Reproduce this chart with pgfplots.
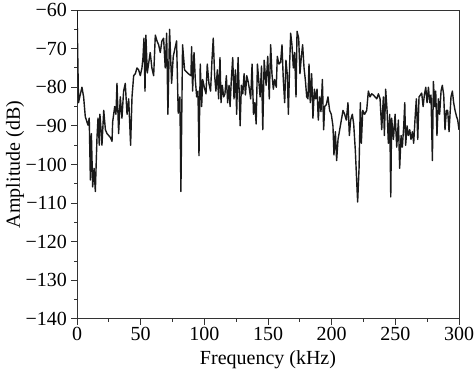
\documentclass[border=0pt]{standalone}
\usepackage{pgfplots}
\pgfplotsset{compat=1.18}
\usepackage{fontspec}
\setmainfont{Liberation Serif}
\pgfplotstableread{
x y
0 -60
0.6 -72
1.2 -84
1.8 -83
3.9 -80
5.2 -82.5
6.5 -87.6
8.6 -89.8
9.6 -88
10.5 -104
11.3 -92
12.3 -105.8
13.4 -101
14.4 -107
15.7 -93
16.5 -88
17.5 -95
18 -87
19 -91.5
19.6 -95
21 -86
22.3 -91
23.6 -92
24.9 -92.5
26.2 -93
27.5 -94
28 -89
29.6 -85
30.6 -87
31.4 -79
32.7 -92
34 -82.5
35.3 -88
36.6 -81
37.9 -79
39.3 -87
40.6 -83
42.1 -95
43.2 -82.5
44.5 -77
45.8 -76.5
47.1 -75
48.4 -75.5
49.7 -77
51 -75
51.8 -72.4
52.6 -67.3
53.4 -81
54.1 -66.5
55.2 -76.3
56.2 -74
57.5 -71
58.8 -75
60.2 -77
61.5 -66.5
62.8 -68
64.1 -69
65.4 -71
66.7 -68
68 -67.3
69.3 -75
70.4 -66
71.4 -87
72.7 -65
74.3 -79
75.6 -72
78.2 -68
79.5 -86.7
80.8 -82.5
81.6 -107
82.9 -69
84.5 -75.5
87.4 -76.5
89.5 -77
90 -69.5
90.8 -81
91.9 -71
92.9 -78
94 -82.5
95 -81
95.8 -97.7
96.8 -74
97.9 -85
98.7 -78
100 -80
101.3 -81.7
102.3 -74
103.6 -79
104.9 -81
106 -73
107 -67.3
108.1 -77
109.1 -81
110.2 -75.5
111.2 -83
112.3 -72.3
113.1 -84
114.1 -79.5
115.2 -82.5
116.2 -81.7
117.3 -77
118.3 -84
119.4 -79.5
120.2 -85
121.2 -78
122.3 -72.3
123.3 -83
124.4 -75.5
125.4 -87
126.5 -72.3
127.3 -80.5
128.1 -90
129.1 -79.5
130.2 -81.7
131.2 -76.5
132.3 -82
133.3 -77
134.4 -78.5
135.4 -80.5
136.4 -83
137.5 -74
138.6 -87
139.6 -84
140.7 -89.5
141.7 -74
142.8 -78.5
143.8 -82.5
144.9 -74.5
145.9 -91
147 -73
148.5 -79.5
149.8 -72
151 -83
152.1 -69
153.1 -76.5
154.2 -80.5
155.2 -78
156.5 -80
157.3 -72
158.6 -74
159.9 -73.5
161 -69
162 -78
163.1 -84
164.1 -73
165.2 -77
166 -87
167 -74
167.8 -66
168.8 -69
169.9 -75
170.9 -71
172 -82.5
172.8 -65.5
174.1 -67.3
175.1 -76.5
176.2 -72
177.2 -69
178.3 -75
179.3 -78
180.4 -82.5
181.4 -83
182.2 -74
183.2 -84
184.3 -76.5
185.3 -88
186.4 -80.5
187.4 -83
188.5 -80.5
189.5 -88.5
190.6 -82.5
191.6 -86.3
192.7 -78
193.7 -91
194.5 -85
195.8 -84.5
197.1 -82.5
198.4 -86
199.7 -87
201 -90
201.8 -97.5
202.9 -91.5
203.9 -99
205 -93.5
206.3 -91
207.6 -88.5
208.9 -86
210.2 -87
211.5 -88.5
212.8 -84
213.9 -92.5
214.9 -88.5
216.2 -87
217.3 -89.5
218.6 -96.5
219.6 -104
220.4 -109.7
221.5 -101
222.5 -84
223.3 -94.5
224.4 -86
225.9 -87
227.5 -86
228.8 -81
230.1 -82.5
231.4 -81.7
232.7 -82
234.1 -82.5
235.4 -83
236.7 -81.7
238 -83
239.3 -91
240.6 -82.5
241.4 -92.5
242.4 -80.5
243.5 -86
244.5 -94.5
245.6 -87
246.4 -108.4
247.1 -88
248.5 -93.5
249.8 -87
251.1 -95.5
252.4 -88.5
253.4 -101
254.5 -92.5
255.5 -95.5
256.6 -90
257.4 -84
258.1 -95
259.2 -90
260.2 -92.5
261.3 -91
262.3 -93.5
263.4 -91.5
264.4 -94.5
265.5 -88
266.5 -83
267.6 -93.5
268.6 -82.5
269.7 -82
270.7 -81.5
271.8 -85
272.8 -82
273.9 -80
274.9 -84
276 -80
277 -84
278 -82
279.1 -99
279.9 -78.5
280.9 -85
281.7 -81
282.7 -92.5
283.8 -83
284.8 -87
285.9 -81
286.9 -79.5
288 -82
289 -91
290.1 -86
291.1 -86
292.2 -91.5
293.7 -82.5
294.8 -81
295.8 -84
296.9 -86
298 -87.5
299 -88.5
300 -91
}\datatable
\begin{document}
\begin{tikzpicture}
\begin{axis}[
  scale only axis,
  width=191pt, height=154.5pt,
  xmin=0, xmax=300, ymin=-140, ymax=-60,
  xtick={0,50,...,300},
  ytick={-140,-130,...,-60},
  yticklabels={−140,−130,−120,−110,−100,−90,−80,−70,−60},
  xticklabels={0,50,100,150,200,250,300},
  minor x tick num=1, minor y tick num=1,
  xtick pos=bottom, ytick pos=left,
  tick align=outside,
  major tick length=3pt,
  minor tick style={/pgfplots/tick align=inside},
  minor tick length=1.5pt,
  axis line style={draw=black!80, line width=0.5pt},
  tick style={black!80, line width=0.5pt},
  font=\fontsize{10}{11}\selectfont,
  xticklabel style={yshift=2.5pt},
  yticklabel style={xshift=1.5pt},
  xlabel={Frequency (kHz)},
  ylabel={Amplitude (dB)},
  xlabel style={at={(axis description cs:0.5,-0.146)}, anchor=base},
  ylabel style={at={(axis description cs:-0.162,0.5)}, anchor=center},
  clip=true,
]
\addplot[black!90, line width=0.7pt, line join=round] table[x=x,y=y] {\datatable};
\end{axis}
\pgfresetboundingbox
\path ([shift={(-38.5pt,-26.5pt)}]current axis.south west) rectangle ([shift={(7.5pt,5pt)}]current axis.north east);
\end{tikzpicture}
\end{document}
